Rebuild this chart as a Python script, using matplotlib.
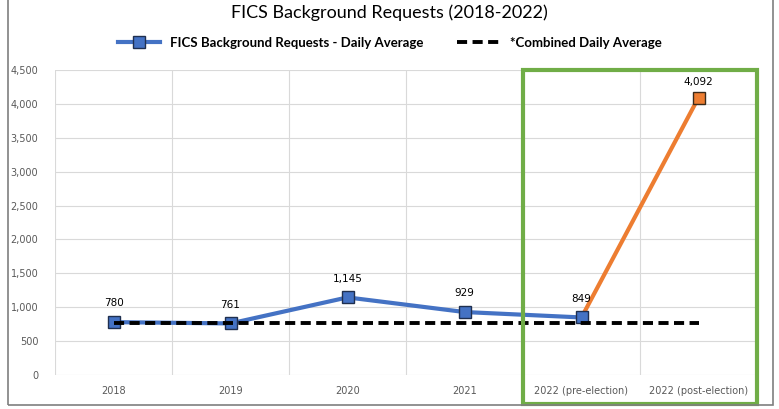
import numpy as np
import matplotlib as mlp
import matplotlib.pyplot as plt
from matplotlib.patches import Rectangle

mlp.rcParams['font.family'] = ['Lato', 'DejaVu Sans']

categories = ['2018', '2019', '2020', '2021', '2022 (pre-election)', '2022 (post-election)']
daily_avg = [780, 761, 1145, 929, 849]
post_election = [849, 4092]
combined_avg = [770, 770, 770, 770, 770, 770]

xs = np.arange(len(categories))
fmt = lambda v: format(int(v), ',')

fig = plt.figure(figsize=(7.79, 4.09), dpi=100)
ax = fig.add_axes([55/779, 1-375/409, 702/779, 305/409])

ax.plot(xs[4:6], post_election, color='#ED7D31', lw=3, zorder=3,
        marker='s', ms=9, mfc='#ED7D31', mec='#3a2a1a', mew=1, markevery=[1])
ax.plot(xs[:5], daily_avg, color='#4472C4', lw=3, zorder=4,
        marker='s', ms=9, mfc='#4472C4', mec='#1f2f4f', mew=1,
        label='FICS Background Requests - Daily Average')
ax.plot(xs[:6], combined_avg, color='black', lw=2.8, ls=(0, (2.6, 1.4)), zorder=5,
        label='*Combined Daily Average')

for x, v in zip(xs[:5], daily_avg):
    ax.annotate(fmt(v), (x, v), xytext=(0, 10), textcoords='offset points',
                ha='center', va='bottom', fontsize=7.5, family='DejaVu Sans')
ax.annotate(fmt(post_election[1]), (xs[5], post_election[1]), xytext=(0, 8),
            textcoords='offset points', ha='center', va='bottom', fontsize=7.5,
            family='DejaVu Sans')

ax.set_xlim(-0.5, 5.5)
ax.set_ylim(0, 4500)
ax.set_yticks(np.arange(0, 4501, 500))
ax.yaxis.set_major_formatter(mlp.ticker.FuncFormatter(lambda v, p: fmt(v)))
ax.set_xticks(xs)
ax.set_xticklabels(categories)
ax.set_xticks(np.arange(-0.5, 5.6, 1), minor=True)
ax.tick_params(axis='both', which='both', length=0, labelsize=7, labelcolor='#595959')
ax.tick_params(axis='y', pad=12)
ax.tick_params(axis='x', pad=8)
for t in ax.get_xticklabels() + ax.get_yticklabels():
    t.set_family('DejaVu Sans')
ax.grid(axis='y', which='major', color='#d9d9d9', lw=0.8)
ax.grid(axis='x', which='minor', color='#d9d9d9', lw=0.8)
for s in ax.spines.values():
    s.set_visible(False)
ax.set_axisbelow(True)

# highlight box for 2022
fig.patches.append(Rectangle((523/779, 1-404/409), 234/779, 334/409,
                             transform=fig.transFigure, fill=False,
                             ec='#70AD47', lw=3, zorder=10))
# chart frame
fig.patches.append(Rectangle((8/779, 1-405/409), 765/779, 410/409,
                             transform=fig.transFigure, fill=False,
                             ec='#7f7f7f', lw=1.2, zorder=11))

fig.text(0.5, 1-13/409, 'FICS Background Requests (2018-2022)', ha='center',
         va='center', fontsize=13)
fig.legend(loc='center', bbox_to_anchor=(0.5, 1-43/409), ncol=2, frameon=False,
           prop={'weight': 'bold', 'size': 9.5}, handlelength=3.2,
           columnspacing=2.5)

plt.savefig('out.png', dpi=100)
